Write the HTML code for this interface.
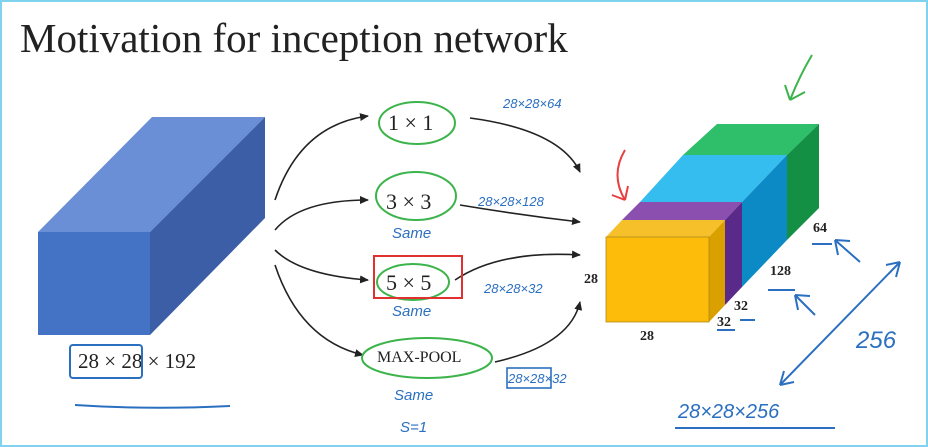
<!DOCTYPE html>
<html><head><style>
html,body{margin:0;padding:0;background:#fff;}
svg{display:block;}
.s{font-family:"Liberation Serif",serif;fill:#222;}
.h{font-family:"Liberation Sans",sans-serif;fill:#2a6fc0;font-style:italic;}
</style></head><body>
<svg width="928" height="447" viewBox="0 0 928 447" xmlns="http://www.w3.org/2000/svg">
<defs><marker id="a" markerWidth="10" markerHeight="10" refX="8" refY="4" orient="auto" markerUnits="userSpaceOnUse"><path d="M0,0 L9,4 L0,8 z" fill="#222"/></marker></defs>
<rect x="1" y="1" width="926" height="445" fill="#fff" stroke="#7fd3ee" stroke-width="2"/>
<text x="20" y="52" class="s" font-size="41">Motivation for inception network</text>
<polygon points="38,232 150,232 265,117 152,117" fill="#6a8fd6"/>
<polygon points="150,232 265,117 265,218 150,335" fill="#3b5ea6"/>
<rect x="38" y="232" width="112" height="103" fill="#4472c4"/>
<text x="78" y="368" class="s" font-size="21">28 × 28 × 192</text>
<rect x="70" y="345" width="72" height="33" rx="3" fill="none" stroke="#2a6fc0" stroke-width="2"/>
<path d="M75 405 Q150 410 230 406" stroke="#2a6fc0" stroke-width="2" fill="none"/>
<g stroke="#222" stroke-width="1.6" fill="none" marker-end="url(#a)">
<path d="M275 200 Q300 125 368 116"/>
<path d="M275 230 Q300 200 368 200"/>
<path d="M275 250 Q300 275 368 280"/>
<path d="M275 265 Q300 340 363 355"/>
<path d="M470 118 Q560 130 580 172"/>
<path d="M460 205 Q520 215 580 222"/>
<path d="M455 280 Q500 250 580 255"/>
<path d="M495 362 Q570 345 580 302"/>
</g>
<g class="s" font-size="22">
<text x="388" y="130">1 × 1</text>
<text x="386" y="209">3 × 3</text>
<text x="386" y="290">5 × 5</text>
<text x="377" y="362" font-size="16">MAX-POOL</text>
</g>
<g fill="none" stroke="#3cb44b" stroke-width="2">
<ellipse cx="417" cy="123" rx="38" ry="21"/>
<ellipse cx="416" cy="196" rx="40" ry="24"/>
<ellipse cx="413" cy="282" rx="36" ry="18"/>
<ellipse cx="427" cy="358" rx="65" ry="20"/>
</g>
<rect x="374" y="256" width="88" height="42" fill="none" stroke="#e03030" stroke-width="2"/>
<g class="h" font-size="13">
<text x="503" y="108">28×28×64</text>
<text x="478" y="206">28×28×128</text>
<text x="484" y="293">28×28×32</text>
<text x="508" y="383">28×28×32</text>
<text x="392" y="238" font-size="15">Same</text>
<text x="392" y="316" font-size="15">Same</text>
<text x="394" y="400" font-size="15">Same</text>
<text x="400" y="432" font-size="15">S=1</text>
<text x="678" y="418" font-size="20">28×28×256</text>
<text x="856" y="348" font-size="24">256</text>
</g>
<rect x="507" y="368" width="44" height="20" fill="none" stroke="#2a6fc0" stroke-width="1.6"/>
<path d="M675 428 L835 428" stroke="#2a6fc0" stroke-width="2"/>
<polygon points="683,155 787,155 819,124 717,124" fill="#2fbe6a"/>
<polygon points="787,155 819,124 819,208 787,240" fill="#149045"/>
<polygon points="640,202 742,202 787,155 683,155" fill="#35bdf0"/>
<polygon points="742,202 787,155 787,240 742,287" fill="#0b8ac6"/>
<polygon points="622,220 725,220 742,202 640,202" fill="#8b4fb0"/>
<polygon points="725,220 742,202 742,287 725,305" fill="#5a2a8a"/>
<polygon points="606,237 709,237 725,220 622,220" fill="#f5c02a"/>
<polygon points="709,237 725,220 725,305 709,322" fill="#d9a000"/>
<rect x="606" y="237" width="103" height="85" fill="#fdbb0a" stroke="#b08a20" stroke-width="0.8"/>
<g class="s" font-size="14" font-weight="bold" fill="#333">
<text x="584" y="283">28</text>
<text x="640" y="340">28</text>
<text x="717" y="326">32</text>
<text x="734" y="310">32</text>
<text x="770" y="275">128</text>
<text x="813" y="232">64</text>
</g>
<g stroke="#2a6fc0" stroke-width="2" fill="none">
<path d="M812 244 L832 244"/><path d="M768 290 L795 290"/><path d="M717 330 L735 330"/><path d="M740 320 L755 320"/>
<path d="M835 240 L860 262 M835 240 L838 255 M835 240 L850 241"/>
<path d="M795 295 L815 315 M795 295 L798 310 M795 295 L810 296"/>
<path d="M780 385 L900 262 M900 262 L886 265 M900 262 L896 277"/>
<path d="M780 385 L794 382 M780 385 L784 371"/>
<path d="M812 55 Q800 75 790 100 M790 100 L785 85 M790 100 L805 92" stroke="#3cb44b"/>
</g>
<path d="M625 150 Q610 175 625 200 M625 200 L612 195 M625 200 L628 186" stroke="#e84040" stroke-width="2" fill="none"/>
</svg>
</body></html>
